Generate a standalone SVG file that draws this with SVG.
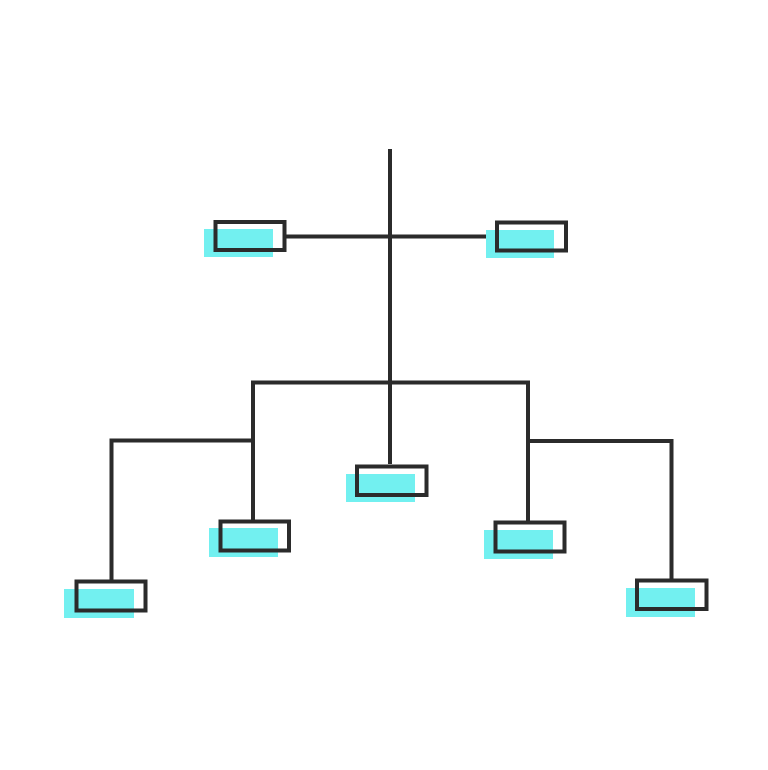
<svg xmlns="http://www.w3.org/2000/svg" width="768" height="770" viewBox="0 0 768 770">
<style>
.ln{stroke:#2b2b2b;stroke-width:4;fill:none;stroke-linecap:butt;stroke-linejoin:miter}
.bx{stroke:#2b2b2b;stroke-width:4;fill:none}
.hl{fill:#72f0f0}
</style>
<rect width="768" height="770" fill="#ffffff"/>
<g id="connectors">
<path class="ln" d="M390 149 V382"/>
<path class="ln" d="M286 236.5 H495"/>
<path class="ln" d="M253 521 V382.5 H528 V521"/>
<path class="ln" d="M390 382 V464"/>
<path class="ln" d="M253 440.5 H111.5 V580"/>
<path class="ln" d="M528 441 H671.5 V579"/>
</g>
<g id="node-top-left"><rect class="hl" x="204" y="229" width="69" height="28"/><rect class="bx" x="215.5" y="222" width="69" height="28"/></g>
<g id="node-top-right"><rect class="hl" x="486" y="230" width="68" height="28"/><rect class="bx" x="497" y="222.5" width="69" height="28"/></g>
<g id="node-center"><rect class="hl" x="346" y="474" width="69" height="28"/><rect class="bx" x="357" y="466.5" width="69.5" height="28.5"/></g>
<g id="node-mid-left"><rect class="hl" x="209" y="528" width="69" height="29"/><rect class="bx" x="220.5" y="521.5" width="68.5" height="29"/></g>
<g id="node-mid-right"><rect class="hl" x="484" y="530" width="69" height="29"/><rect class="bx" x="495.5" y="522.5" width="69" height="29"/></g>
<g id="node-bottom-left"><rect class="hl" x="64" y="589" width="70" height="29"/><rect class="bx" x="76.5" y="581.5" width="69" height="29"/></g>
<g id="node-bottom-right"><rect class="hl" x="626" y="588" width="69" height="29"/><rect class="bx" x="637" y="580.5" width="69.5" height="28.5"/></g>
</svg>
